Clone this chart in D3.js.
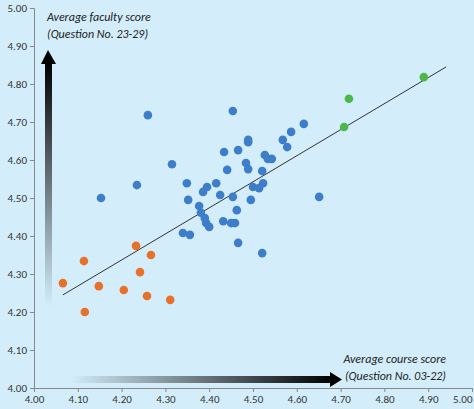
<!DOCTYPE html>
<html><head><meta charset="utf-8">
<script src="https://cdn.jsdelivr.net/npm/d3@7"></script>
<style>body{margin:0}text{font-family:Calibri,"Liberation Sans",Carlito,sans-serif}</style>
</head><body><svg id="chart" width="474" height="409"></svg>
<script>
// orange, blue and green groups [course score, faculty score]
var lowGroup = [[4.066,4.276],[4.114,4.334],[4.116,4.200],[4.148,4.268],[4.205,4.258],[4.233,4.374],[4.242,4.305],[4.258,4.242],[4.267,4.350],[4.311,4.232]];
var midGroup = [[4.260,4.718],[4.454,4.729],[4.616,4.695],[4.587,4.674],[4.568,4.653],[4.578,4.634],[4.489,4.653],[4.489,4.647],[4.466,4.626],[4.434,4.621],[4.315,4.589],[4.527,4.613],[4.534,4.603],[4.543,4.603],[4.484,4.592],[4.489,4.576],[4.441,4.574],[4.521,4.571],[4.349,4.539],[4.416,4.539],[4.395,4.529],[4.386,4.516],[4.523,4.539],[4.500,4.529],[4.514,4.526],[4.425,4.508],[4.454,4.503],[4.352,4.495],[4.495,4.495],[4.651,4.503],[4.377,4.479],[4.463,4.468],[4.381,4.461],[4.390,4.447],[4.393,4.434],[4.400,4.424],[4.432,4.439],[4.450,4.434],[4.459,4.434],[4.340,4.408],[4.356,4.403],[4.466,4.382],[4.521,4.355],[4.153,4.500],[4.235,4.534]];
var highGroup = [[4.890,4.818],[4.719,4.761],[4.708,4.687]];
var trendLine = [[4.066,4.245],[4.941,4.845]];
var xTicks = [4.0,4.1,4.2,4.3,4.4,4.5,4.6,4.7,4.8,4.9,5.0];
var yTicks = [4.0,4.1,4.2,4.3,4.4,4.5,4.6,4.7,4.8,4.9,5.0];

var svg = d3.select("#chart");
svg.append("rect").attr("width",474).attr("height",409).attr("fill","#d3eefa");

var x = d3.scaleLinear().domain([4,5]).range([34,472]);
var y = d3.scaleLinear().domain([4,5]).range([388,8]);

var defs = svg.append("defs");
var gv = defs.append("linearGradient").attr("id","gv").attr("x1",0).attr("y1",1).attr("x2",0).attr("y2",0);
gv.append("stop").attr("offset",0).attr("stop-color","#d3eefa");
gv.append("stop").attr("offset",1).attr("stop-color","#000");
var gh = defs.append("linearGradient").attr("id","gh");
gh.append("stop").attr("offset",0).attr("stop-color","#d3eefa");
gh.append("stop").attr("offset",1).attr("stop-color","#000");

// gradient arrows
svg.append("rect").attr("x",45).attr("y",62).attr("width",7).attr("height",245).attr("fill","url(#gv)");
svg.append("path").attr("d","M41,64 L48,50 L56,64 Z").attr("fill","#000");
svg.append("rect").attr("x",70).attr("y",376).attr("width",262).attr("height",7).attr("fill","url(#gh)");
svg.append("path").attr("d","M330,372 L342,379.5 L330,387 Z").attr("fill","#000");

svg.append("g").attr("transform","translate(0,388)")
  .call(d3.axisBottom(x).tickValues(xTicks).tickFormat(d3.format(".2f")).tickSize(4))
  .call(g=>g.selectAll("line,path").attr("stroke","#888"))
  .call(g=>g.selectAll("text").attr("font-size",11).attr("fill","#333"))
  .call(g=>g.selectAll(".tick:last-of-type text").attr("text-anchor","end").attr("x",0));
svg.append("g").attr("transform","translate(34,0)")
  .call(d3.axisLeft(y).tickValues(yTicks).tickFormat(d3.format(".2f")).tickSize(4))
  .call(g=>g.selectAll("line,path").attr("stroke","#888"))
  .call(g=>g.selectAll("text").attr("font-size",11).attr("fill","#333"));

svg.append("path").datum(trendLine)
  .attr("d",d3.line().x(d=>x(d[0])).y(d=>y(d[1])))
  .attr("stroke","#333").attr("stroke-width",1).attr("fill","none");

function dots(data,color){
  svg.append("g").selectAll("circle").data(data).join("circle")
    .attr("cx",d=>x(d[0])).attr("cy",d=>y(d[1])).attr("r",4.3).attr("fill",color);
}
dots(midGroup,"#3d7dca");
dots(lowGroup,"#e8712a");
dots(highGroup,"#4db84a");

svg.append("text").attr("x",47).attr("y",21).attr("font-size",12).attr("font-style","italic").attr("fill","#222").text("Average faculty score");
svg.append("text").attr("x",47).attr("y",38).attr("font-size",12).attr("font-style","italic").attr("fill","#222").text("(Question No.  23-29)");
svg.append("text").attr("x",446).attr("y",363).attr("text-anchor","end").attr("font-size",12).attr("font-style","italic").attr("fill","#222").text("Average course score");
svg.append("text").attr("x",446).attr("y",380).attr("text-anchor","end").attr("font-size",12).attr("font-style","italic").attr("fill","#222").text("(Question No. 03-22)");
</script></body></html>
